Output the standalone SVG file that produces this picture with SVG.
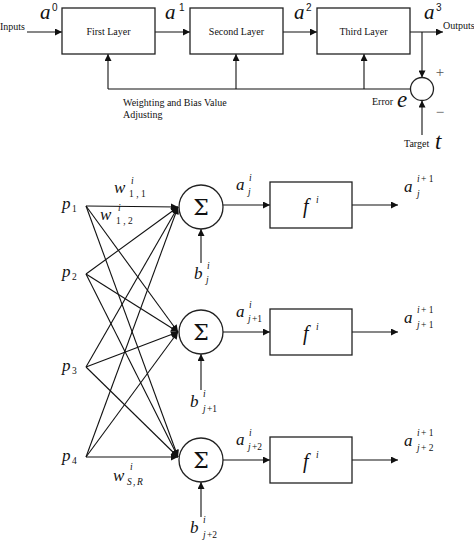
<svg xmlns="http://www.w3.org/2000/svg" width="474" height="541" viewBox="0 0 474 541">
<style>
.ln{stroke:#111;stroke-width:1.1;fill:none}
.bx{stroke:#222;stroke-width:1.3;fill:#fff}
.t{font-family:"Liberation Serif",serif;fill:#111}
.lab{font-size:10px}
.it{font-family:"Liberation Serif",serif;font-style:italic;fill:#111}
.big{font-size:21px}
.m{font-size:17px}
.s{font-size:9.5px}
.sup{font-family:"Liberation Sans",sans-serif;font-size:10px;fill:#111}
.sig{font-family:"DejaVu Serif","Liberation Serif",serif;font-size:22px;fill:#111}
</style>
<defs>
<marker id="ah" viewBox="0 0 10 10" refX="10" refY="5" markerWidth="9" markerHeight="7" markerUnits="userSpaceOnUse" orient="auto">
<path d="M0,0 L10,5 L0,10 z" fill="#111"/>
</marker>
</defs>
<rect width="474" height="541" fill="#fff"/>

<g id="connectors">
<line class="ln" x1="27" y1="32" x2="62" y2="32" marker-end="url(#ah)"/>
<line class="ln" x1="155" y1="32" x2="190" y2="32" marker-end="url(#ah)"/>
<line class="ln" x1="283" y1="32" x2="317" y2="32" marker-end="url(#ah)"/>
<line class="ln" x1="410" y1="32" x2="443" y2="32" marker-end="url(#ah)"/>
<line class="ln" x1="422" y1="32" x2="422" y2="77.5" marker-end="url(#ah)"/>
<line class="ln" x1="422" y1="135" x2="422" y2="100.5" marker-end="url(#ah)"/>
<line class="ln" x1="410" y1="89" x2="108" y2="89"/>
<line class="ln" x1="108" y1="89" x2="108" y2="54" marker-end="url(#ah)"/>
<line class="ln" x1="236" y1="89" x2="236" y2="54" marker-end="url(#ah)"/>
<line class="ln" x1="364" y1="89" x2="364" y2="54" marker-end="url(#ah)"/>

<line class="ln" x1="86" y1="206" x2="178" y2="207" marker-end="url(#ah)"/>
<line class="ln" x1="86" y1="206" x2="178" y2="332" marker-end="url(#ah)"/>
<line class="ln" x1="86" y1="206" x2="178" y2="457" marker-end="url(#ah)"/>
<line class="ln" x1="86" y1="274" x2="178" y2="207" marker-end="url(#ah)"/>
<line class="ln" x1="86" y1="274" x2="178" y2="332" marker-end="url(#ah)"/>
<line class="ln" x1="86" y1="274" x2="178" y2="457" marker-end="url(#ah)"/>
<line class="ln" x1="86" y1="367" x2="178" y2="207" marker-end="url(#ah)"/>
<line class="ln" x1="86" y1="367" x2="178" y2="332" marker-end="url(#ah)"/>
<line class="ln" x1="86" y1="367" x2="178" y2="457" marker-end="url(#ah)"/>
<line class="ln" x1="86" y1="457" x2="178" y2="207" marker-end="url(#ah)"/>
<line class="ln" x1="86" y1="457" x2="178" y2="332" marker-end="url(#ah)"/>
<line class="ln" x1="86" y1="457" x2="178" y2="457" marker-end="url(#ah)"/>

<line class="ln" x1="201" y1="263" x2="201" y2="229" marker-end="url(#ah)"/>
<line class="ln" x1="201" y1="390" x2="201" y2="354" marker-end="url(#ah)"/>
<line class="ln" x1="201" y1="517" x2="201" y2="482" marker-end="url(#ah)"/>

<line class="ln" x1="223" y1="205" x2="270" y2="205" marker-end="url(#ah)"/>
<line class="ln" x1="223" y1="332" x2="270" y2="332" marker-end="url(#ah)"/>
<line class="ln" x1="223" y1="460" x2="270" y2="460" marker-end="url(#ah)"/>
<line class="ln" x1="352" y1="205" x2="398" y2="205" marker-end="url(#ah)"/>
<line class="ln" x1="352" y1="332" x2="398" y2="332" marker-end="url(#ah)"/>
<line class="ln" x1="352" y1="460" x2="398" y2="460" marker-end="url(#ah)"/>
</g>

<g id="inputs"><text class="t lab" x="0" y="30">Inputs</text>
<text class="it big" x="40" y="19">a</text><text class="sup" x="52" y="11">0</text></g>

<g id="first-layer"><rect class="bx" x="62" y="8" width="93" height="46"/><text class="t lab" x="108.5" y="35" text-anchor="middle">First Layer</text></g>
<g id="a1"><text class="it big" x="165" y="19">a</text><text class="sup" x="179" y="11">1</text></g>
<g id="second-layer"><rect class="bx" x="190" y="8" width="93" height="46"/><text class="t lab" x="236.5" y="35" text-anchor="middle">Second Layer</text></g>
<g id="a2"><text class="it big" x="294" y="19">a</text><text class="sup" x="306" y="11">2</text></g>
<g id="third-layer"><rect class="bx" x="317" y="8" width="93" height="46"/><text class="t lab" x="363.5" y="35" text-anchor="middle">Third Layer</text></g>
<g id="a3"><text class="it big" x="424" y="19">a</text><text class="sup" x="436" y="11">3</text></g>
<g id="outputs"><text class="t lab" x="443" y="29">Outputs</text></g>

<g id="error-node"><circle class="bx" cx="422" cy="89" r="11.5"/>
<text class="t" x="440" y="77" text-anchor="middle" style="font-size:15px;fill:#555">+</text>
<text class="t" x="440" y="117" text-anchor="middle" style="font-size:15px;fill:#555">−</text>
<text class="t lab" x="372" y="105">Error</text><text class="it big" x="397" y="107" style="font-size:23px">e</text></g>
<g id="target"><text class="t lab" x="404" y="147">Target</text><text class="it big" x="435" y="149" style="font-size:23px">t</text></g>
<g id="adjust-label"><text class="t lab" x="123" y="106">Weighting and Bias Value</text><text class="t lab" x="123" y="118">Adjusting</text></g>

<g id="p1"><text class="it m" x="62" y="209">p</text><text class="t s" x="72" y="212">1</text></g>
<g id="p2"><text class="it m" x="62" y="277">p</text><text class="t s" x="72" y="280">2</text></g>
<g id="p3"><text class="it m" x="62" y="371">p</text><text class="t s" x="72" y="374">3</text></g>
<g id="p4"><text class="it m" x="62" y="461">p</text><text class="t s" x="72" y="464">4</text></g>

<g id="w11"><text class="it m" x="114" y="193">w</text><text class="it s" x="131" y="184">i</text><text class="t s" x="129" y="197">1 , 1</text></g>
<g id="w12"><text class="it m" x="100" y="220">w</text><text class="it s" x="118" y="211">i</text><text class="t s" x="116" y="224">1 , 2</text></g>
<g id="wSR"><text class="it m" x="113" y="481">w</text><text class="it s" x="130" y="470">i</text><text class="it s" x="127" y="485">S</text><text class="t s" x="133" y="485">,</text><text class="it s" x="137" y="485">R</text></g>

<g id="sum1"><circle class="bx" cx="201" cy="207" r="22"/><text class="sig" x="201" y="215" text-anchor="middle">Σ</text></g>
<g id="sum2"><circle class="bx" cx="201" cy="332" r="22"/><text class="sig" x="201" y="340" text-anchor="middle">Σ</text></g>
<g id="sum3"><circle class="bx" cx="201" cy="460" r="22"/><text class="sig" x="201" y="468" text-anchor="middle">Σ</text></g>

<g id="b1"><text class="it m" x="194" y="279">b</text><text class="it s" x="207" y="269">i</text><text class="it s" x="206" y="283">j</text></g>
<g id="b2"><text class="it m" x="190" y="407">b</text><text class="it s" x="203" y="397">i</text><text class="it s" x="203" y="412">j</text><text class="t s" x="207" y="412">+1</text></g>
<g id="b3"><text class="it m" x="190" y="533">b</text><text class="it s" x="203" y="523">i</text><text class="it s" x="203" y="538">j</text><text class="t s" x="207" y="538">+2</text></g>

<g id="aj"><text class="it m" x="236" y="190">a</text><text class="it s" x="249" y="181">i</text><text class="it s" x="248" y="195">j</text></g>
<g id="aj1"><text class="it m" x="236" y="317">a</text><text class="it s" x="249" y="308">i</text><text class="it s" x="248" y="322">j</text><text class="t s" x="252" y="322">+1</text></g>
<g id="aj2"><text class="it m" x="236" y="445">a</text><text class="it s" x="249" y="436">i</text><text class="it s" x="248" y="450">j</text><text class="t s" x="252" y="450">+2</text></g>

<g id="f1"><rect class="bx" x="270" y="182" width="82" height="46"/><text class="it m" x="303" y="213" style="font-size:20px">f</text><text class="it s" x="316" y="203">i</text></g>
<g id="f2"><rect class="bx" x="270" y="309" width="82" height="46"/><text class="it m" x="303" y="340" style="font-size:20px">f</text><text class="it s" x="316" y="330">i</text></g>
<g id="f3"><rect class="bx" x="270" y="437" width="82" height="46"/><text class="it m" x="303" y="468" style="font-size:20px">f</text><text class="it s" x="316" y="458">i</text></g>

<g id="out1"><text class="it m" x="404" y="192">a</text><text class="it s" x="417" y="182">i</text><text class="t s" x="421" y="182">+ 1</text><text class="it s" x="417" y="197">j</text></g>
<g id="out2"><text class="it m" x="404" y="323">a</text><text class="it s" x="417" y="313">i</text><text class="t s" x="421" y="313">+ 1</text><text class="it s" x="417" y="328">j</text><text class="t s" x="421" y="328">+ 1</text></g>
<g id="out3"><text class="it m" x="404" y="446">a</text><text class="it s" x="417" y="436">i</text><text class="t s" x="421" y="436">+ 1</text><text class="it s" x="417" y="451">j</text><text class="t s" x="421" y="451">+ 2</text></g>
</svg>
